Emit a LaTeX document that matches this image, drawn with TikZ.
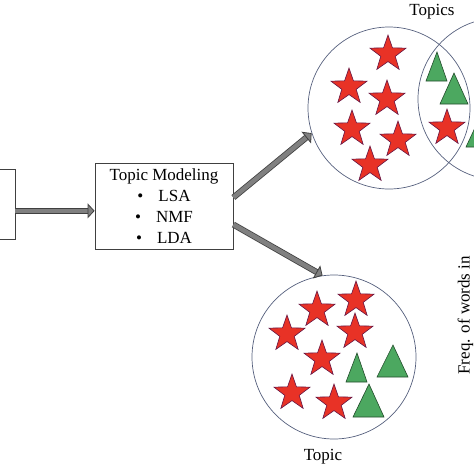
\documentclass[tikz,border=0pt]{standalone}
\usepackage{fontspec}
\setmainfont{Liberation Serif}
\usetikzlibrary{shapes.geometric,arrows.meta}
\definecolor{starred}{RGB}{232,50,38}
\definecolor{leafgreen}{RGB}{76,168,96}
\definecolor{ringblue}{RGB}{85,95,125}
\begin{document}
\begin{tikzpicture}[x=1pt,y=-1pt,
        every node/.style={font=\fontsize{17}{21}\selectfont},
        box/.style={draw=black!75, line width=0.8pt, rectangle, inner sep=0pt},
        ring/.style={draw=ringblue, line width=0.7pt, circle, inner sep=0pt, minimum size=162pt},
        redstar/.style={star, star points=5, star point ratio=2.5, fill=starred, draw=starred!55!black!80!blue, line width=0.6pt, minimum size=38pt, inner sep=0pt},
        greentri/.style={fill=leafgreen, draw=leafgreen!45!black, line width=0.6pt},
        fatarrow/.style={draw=black!75, line width=0.8pt, double=black!50, double distance=4.5pt, -{Triangle[length=7pt,width=15pt,fill=black!50]}}]
    \useasboundingbox (0,0) rectangle (474,474);
    \node[box, minimum width=50pt, minimum height=70pt] (src) at (-10,204) {};
    \node[box, minimum width=138pt, minimum height=86pt, align=center] (tm) at (164,206)
        {Topic Modeling\\ \textbullet\hspace{15pt}LSA\\ \textbullet\hspace{15pt}NMF\\ \textbullet\hspace{15pt}LDA};
    \node[ring] (c1) at (389,108) {};
    \node[ring] (c3) at (499,99) {};
    \node[ring, minimum size=164pt] (c2) at (334,357) {};
    \foreach \p [count=\i] in {(388,54),(349,87),(387,99),(352,129),(398,140),(370,165),(447,128)}
        \node[redstar] (us\i) at \p {};
    \foreach \p [count=\i] in {(317,310),(356,300),(287,334),(355,332),(322,359),(292,393),(334,403)}
        \node[redstar] (ls\i) at \p {};
    \filldraw[greentri] (437,52) -- (447,81) -- (426,81) -- cycle;
    \filldraw[greentri] (454,73) -- (468,104) -- (440,104) -- cycle;
    \filldraw[greentri] (480,117) -- (494,147) -- (466,147) -- cycle;
    \filldraw[greentri] (357,353) -- (367,382) -- (346,382) -- cycle;
    \filldraw[greentri] (393,345) -- (408,377) -- (377,377) -- cycle;
    \filldraw[greentri] (369,384) -- (384,417) -- (353,417) -- cycle;
    \node (topics) at (432,12) {Topics};
    \node (topic) at (323,457) {Topic};
    \node[rotate=90, anchor=base west] (freq) at (469.5,378) {Freq. of words in};
    \draw[fatarrow] (src.east |- tm.184) -- (tm.184);
    \draw[fatarrow] (tm.7) -- (c1.198);
    \draw[fatarrow] (tm.-15) -- (c2.98);
\end{tikzpicture}
\end{document}
